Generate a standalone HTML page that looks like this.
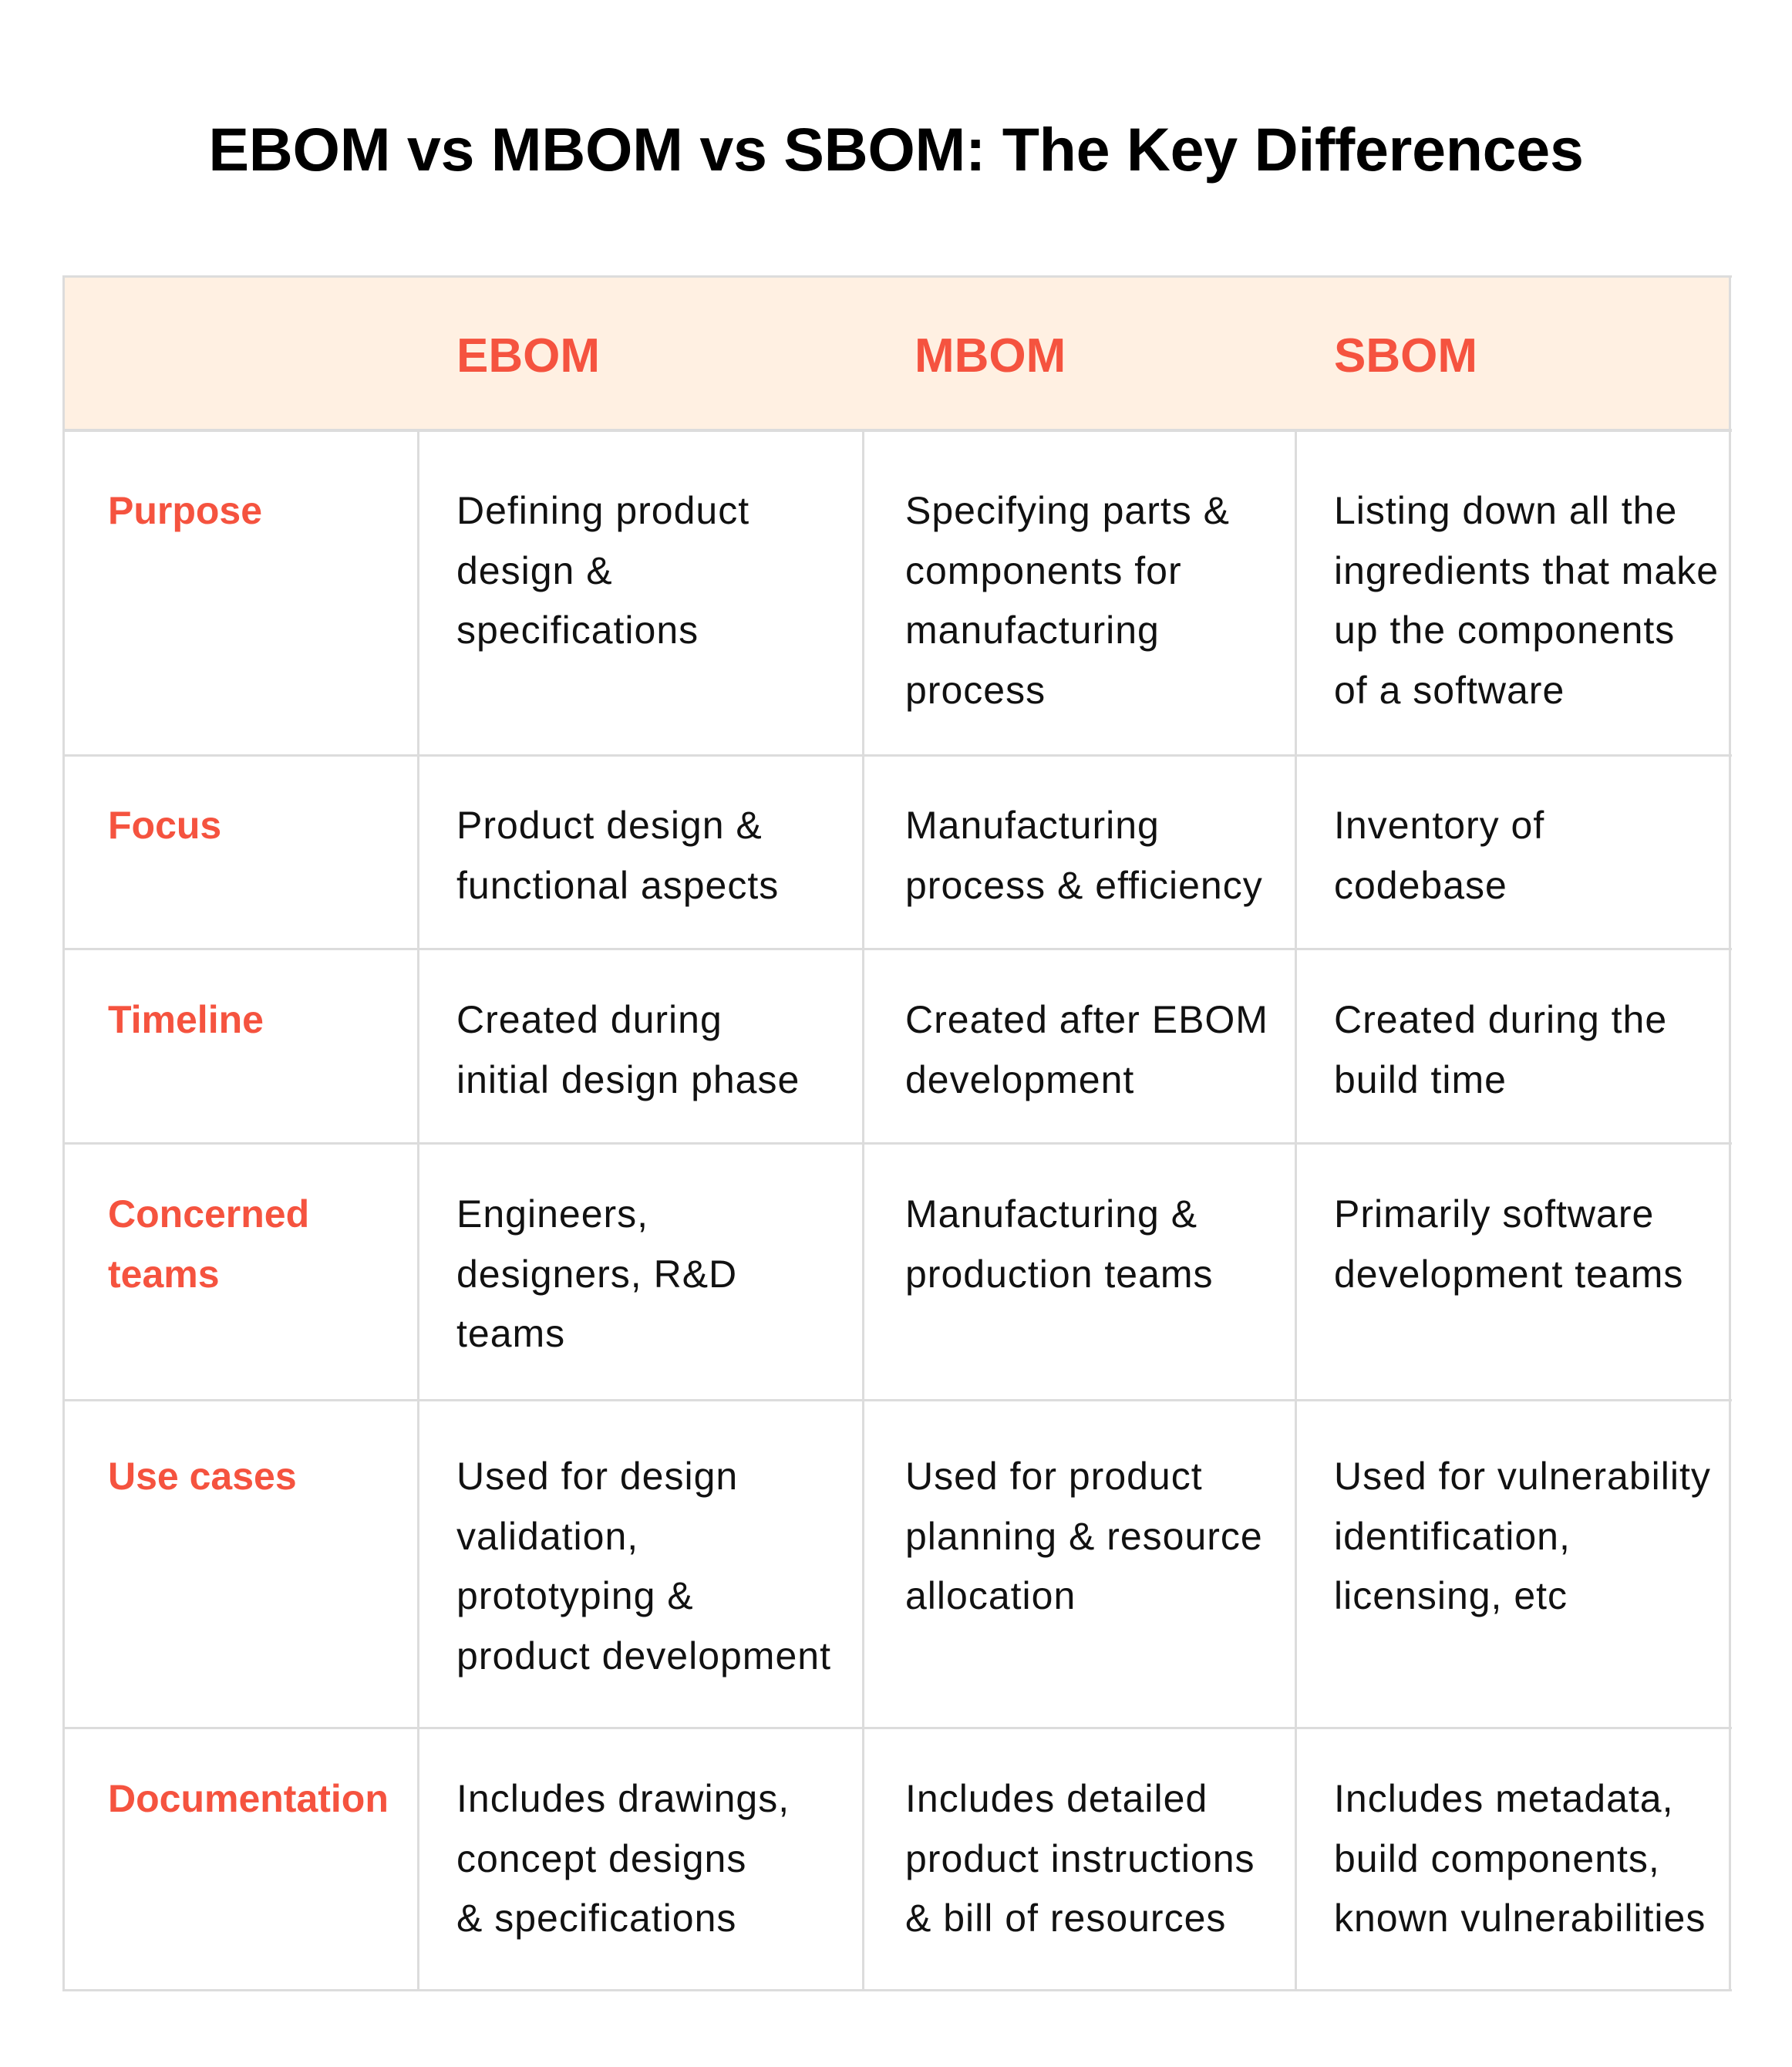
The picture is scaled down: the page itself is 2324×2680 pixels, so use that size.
<!DOCTYPE html>
<html><head><meta charset="utf-8"><style>
body{margin:0;width:2324px;height:2680px;background:#fff;position:relative;font-family:"Liberation Sans",Arial,sans-serif;overflow:hidden}
.t{position:absolute;left:0;width:2324px;top:148px;text-align:center;font-weight:bold;font-size:79px;color:#000;letter-spacing:-0.3px}
.hb{position:absolute;left:82px;top:358px;width:2163px;height:200px;background:#fff0e2}
.h{position:absolute;top:425px;font-weight:bold;font-size:62px;color:#f5533f;line-height:74px}
.hl{position:absolute;background:#dcdcdc}
.c{position:absolute;font-size:50px;letter-spacing:1px;line-height:77.5px;color:#111;white-space:nowrap}
.l{position:absolute;font-size:50px;line-height:77.5px;color:#f5533f;font-weight:bold;white-space:nowrap}
</style></head><body>
<div class="t">EBOM vs MBOM vs SBOM: The Key Differences</div>
<div class="hb"></div>
<div class="h" style="left:592px">EBOM</div>
<div class="h" style="left:1186px">MBOM</div>
<div class="h" style="left:1730px">SBOM</div>
<div class="hl" style="left:81px;top:357px;width:2165px;height:3px"></div>
<div class="hl" style="left:81px;top:357px;width:3px;height:2225px"></div>
<div class="hl" style="left:2242px;top:357px;width:3px;height:2225px"></div>
<div class="hl" style="left:81px;top:556px;width:2165px;height:4px"></div>
<div class="hl" style="left:81px;top:978px;width:2165px;height:3px"></div>
<div class="hl" style="left:81px;top:1229px;width:2165px;height:3px"></div>
<div class="hl" style="left:81px;top:1481px;width:2165px;height:3px"></div>
<div class="hl" style="left:81px;top:1814px;width:2165px;height:3px"></div>
<div class="hl" style="left:81px;top:2239px;width:2165px;height:3px"></div>
<div class="hl" style="left:81px;top:2579px;width:2165px;height:3px"></div>
<div class="hl" style="left:541px;top:558px;width:3px;height:2022px"></div>
<div class="hl" style="left:1118px;top:558px;width:3px;height:2022px"></div>
<div class="hl" style="left:1679px;top:558px;width:3px;height:2022px"></div>

<div class="l" style="left:140px;top:624px">Purpose</div>
<div class="c" style="left:592px;top:624px">Defining product<br>design &amp;<br>specifications</div>
<div class="c" style="left:1174px;top:624px">Specifying parts &amp;<br>components for<br>manufacturing<br>process</div>
<div class="c" style="left:1730px;top:624px">Listing down all the<br>ingredients that make<br>up the components<br>of a software</div>

<div class="l" style="left:140px;top:1032px">Focus</div>
<div class="c" style="left:592px;top:1032px">Product design &amp;<br>functional aspects</div>
<div class="c" style="left:1174px;top:1032px">Manufacturing<br>process &amp; efficiency</div>
<div class="c" style="left:1730px;top:1032px">Inventory of<br>codebase</div>

<div class="l" style="left:140px;top:1284px">Timeline</div>
<div class="c" style="left:592px;top:1284px">Created during<br>initial design phase</div>
<div class="c" style="left:1174px;top:1284px">Created after EBOM<br>development</div>
<div class="c" style="left:1730px;top:1284px">Created during the<br>build time</div>

<div class="l" style="left:140px;top:1536px">Concerned<br>teams</div>
<div class="c" style="left:592px;top:1536px">Engineers,<br>designers, R&amp;D<br>teams</div>
<div class="c" style="left:1174px;top:1536px">Manufacturing &amp;<br>production teams</div>
<div class="c" style="left:1730px;top:1536px">Primarily software<br>development teams</div>

<div class="l" style="left:140px;top:1876px">Use cases</div>
<div class="c" style="left:592px;top:1876px">Used for design<br>validation,<br>prototyping &amp;<br>product development</div>
<div class="c" style="left:1174px;top:1876px">Used for product<br>planning &amp; resource<br>allocation</div>
<div class="c" style="left:1730px;top:1876px">Used for vulnerability<br>identification,<br>licensing, etc</div>

<div class="l" style="left:140px;top:2294px">Documentation</div>
<div class="c" style="left:592px;top:2294px">Includes drawings,<br>concept designs<br>&amp; specifications</div>
<div class="c" style="left:1174px;top:2294px">Includes detailed<br>product instructions<br>&amp; bill of resources</div>
<div class="c" style="left:1730px;top:2294px">Includes metadata,<br>build components,<br>known vulnerabilities</div>
</body></html>
